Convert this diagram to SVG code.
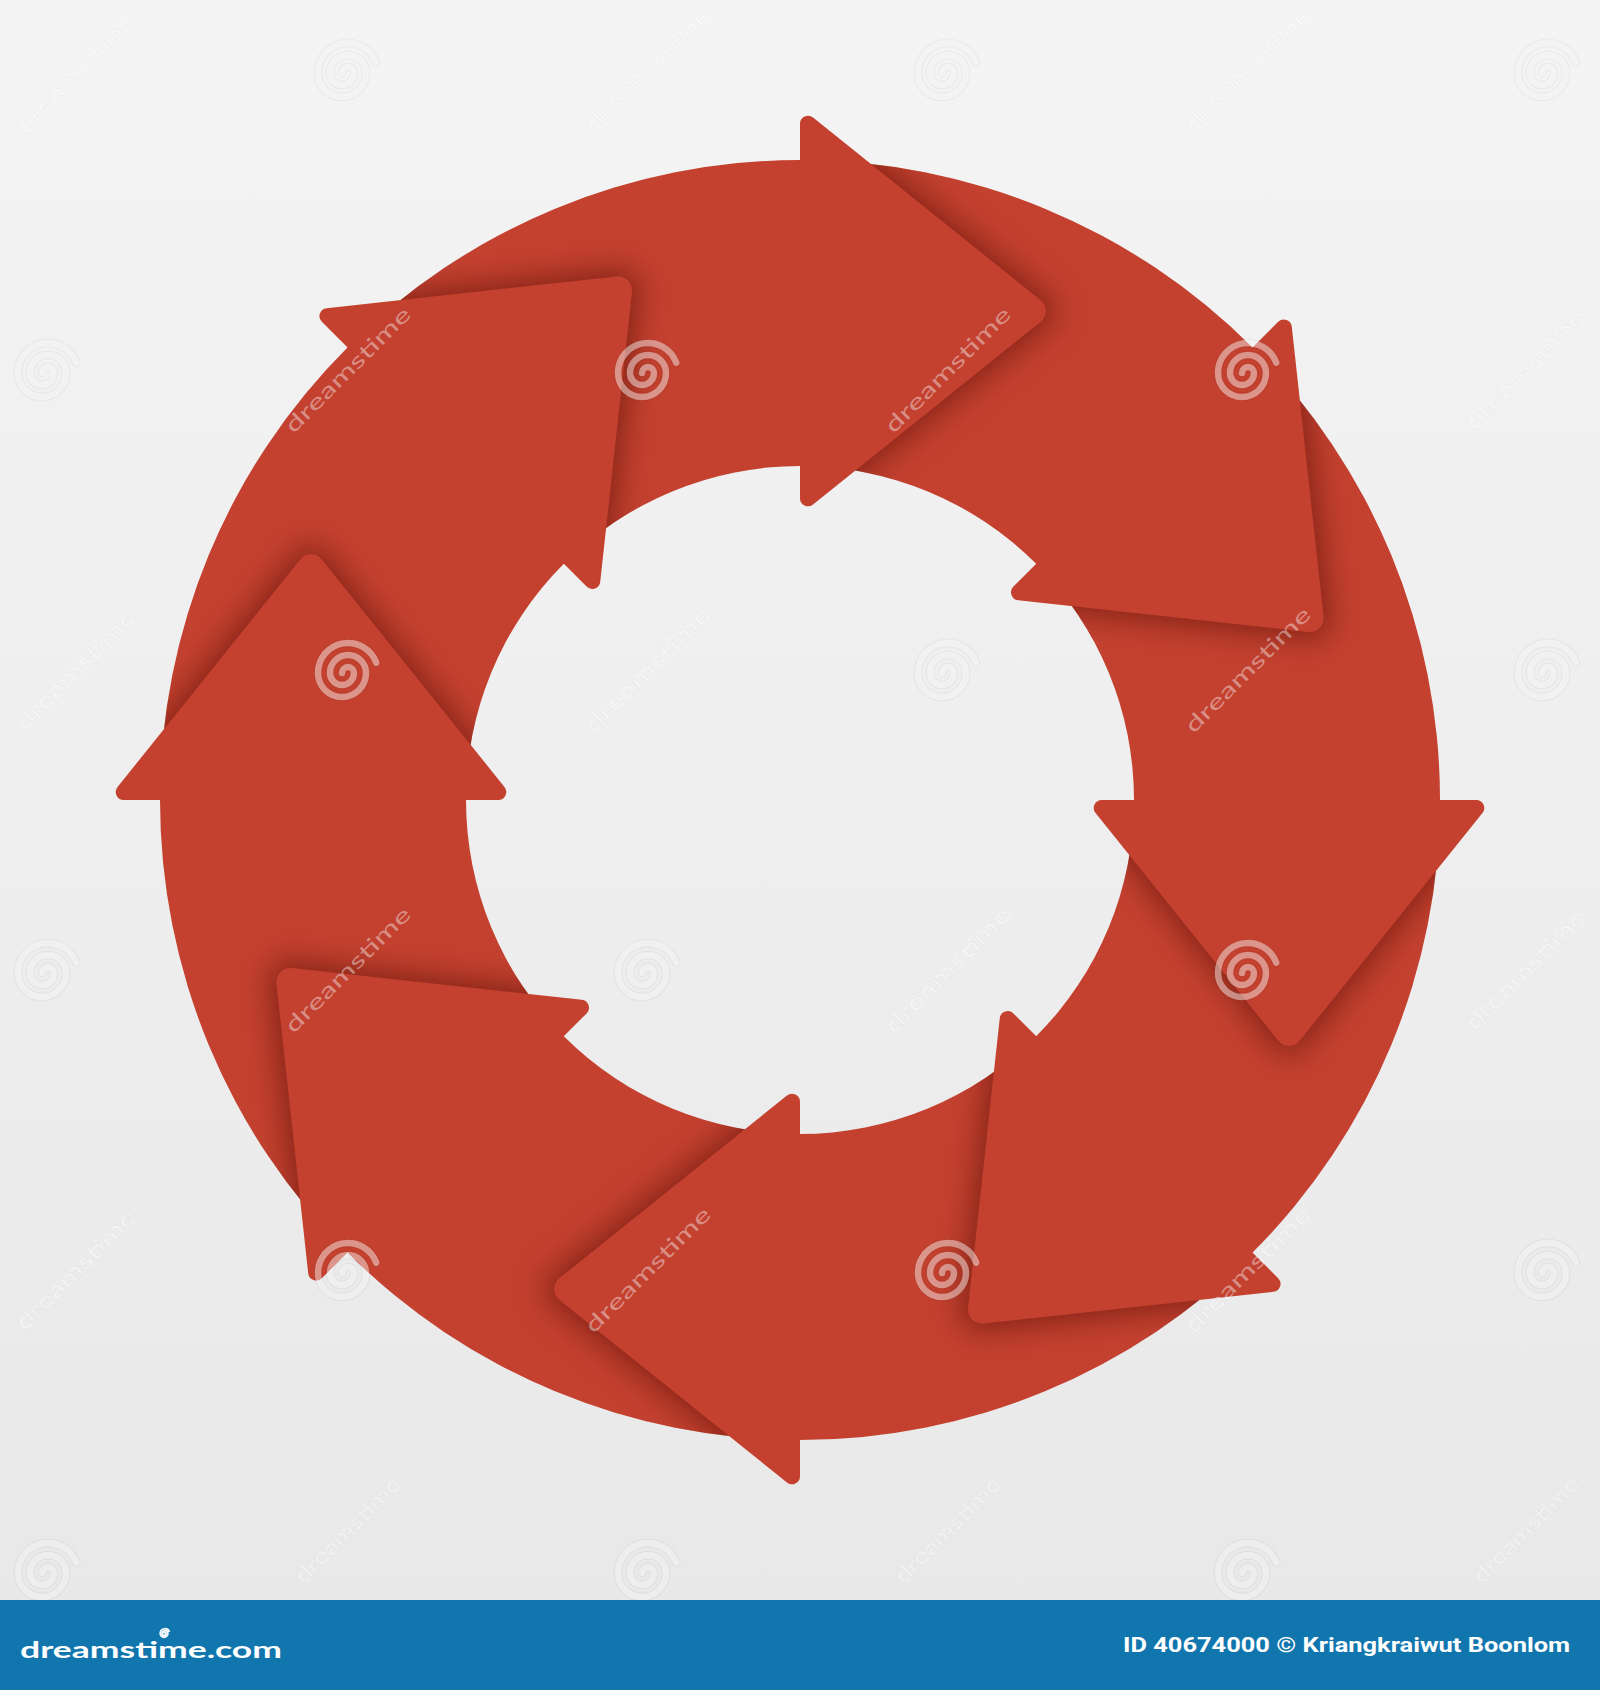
<svg xmlns="http://www.w3.org/2000/svg" xmlns:xlink="http://www.w3.org/1999/xlink" width="1600" height="1690" viewBox="0 0 1600 1690">
<defs>
<style>
.ring{fill:#c4412f}
.head{fill:#c4412f}
.wm{font-family:Lato,"Open Sans",sans-serif;font-size:21px;fill:#ffffff;fill-opacity:0.42;stroke:#000;stroke-opacity:0.03;stroke-width:1}
.sp{fill:none;stroke:#ffffff;stroke-opacity:0.45;stroke-width:6.5;stroke-linecap:round}
.spo{fill:none;stroke:#000;stroke-opacity:0.035;stroke-width:9;stroke-linecap:round}
.bar-l{font-family:Lato,"Open Sans",sans-serif;font-size:23px;font-weight:bold;fill:#ffffff}
.bar-r{font-family:Roboto,"Liberation Sans",sans-serif;font-size:21px;font-weight:bold;fill:#ffffff}
</style>
<linearGradient id="bg" x1="0" y1="0" x2="0" y2="1">
<stop offset="0" stop-color="#f4f4f5"/>
<stop offset="1" stop-color="#e8e8e9"/>
</linearGradient>
<path id="headShape" d="M 800 123.8 A 8 8 0 0 1 813.06 117.57 L 1040.55 300.11 A 14 14 0 0 1 1040.55 321.89 L 813.06 504.43 A 8 8 0 0 1 800 498.2 Z"/>
<clipPath id="nextBody">
<path d="M 800 160 A 640 640 0 0 1 1252.55 347.45 L 1036.17 563.83 A 334 334 0 0 0 800 466 Z"/>
</clipPath>
<filter id="sh" x="-40%" y="-40%" width="180%" height="180%" color-interpolation-filters="sRGB">
<feGaussianBlur in="SourceAlpha" stdDeviation="16"/>
<feOffset dx="9" dy="0" result="b"/>
<feFlood flood-color="#4a0800" flood-opacity="0.55"/>
<feComposite in2="b" operator="in"/>
</filter>
<path id="spiral" d="M0 0 A6 6 0 0 1 12 0 A12 12 0 0 1 -12 0 A18 18 0 0 1 24 0 A24 24 0 0 1 -24 0 A30 30 0 0 1 34.2 -10.3" transform="translate(-6 3)"/>
<g id="wmSpiral"><use xlink:href="#spiral" class="spo"/><use xlink:href="#spiral" class="sp"/></g>
</defs>

<rect x="0" y="0" width="1600" height="1690" fill="url(#bg)"/>

<g id="ring">
<path class="ring" fill-rule="evenodd" d="M 160 800 A 640 640 0 1 0 1440 800 A 640 640 0 1 0 160 800 Z M 466 800 A 334 334 0 1 0 1134 800 A 334 334 0 1 0 466 800 Z"/>
</g>

<g id="shadows">
<g transform="rotate(0 800 800)"><g clip-path="url(#nextBody)"><use xlink:href="#headShape" filter="url(#sh)"/></g></g>
<g transform="rotate(45 800 800)"><g clip-path="url(#nextBody)"><use xlink:href="#headShape" filter="url(#sh)"/></g></g>
<g transform="rotate(90 800 800)"><g clip-path="url(#nextBody)"><use xlink:href="#headShape" filter="url(#sh)"/></g></g>
<g transform="rotate(135 800 800)"><g clip-path="url(#nextBody)"><use xlink:href="#headShape" filter="url(#sh)"/></g></g>
<g transform="rotate(180 800 800)"><g clip-path="url(#nextBody)"><use xlink:href="#headShape" filter="url(#sh)"/></g></g>
<g transform="rotate(225 800 800)"><g clip-path="url(#nextBody)"><use xlink:href="#headShape" filter="url(#sh)"/></g></g>
<g transform="rotate(270 800 800)"><g clip-path="url(#nextBody)"><use xlink:href="#headShape" filter="url(#sh)"/></g></g>
<g transform="rotate(315 800 800)"><g clip-path="url(#nextBody)"><use xlink:href="#headShape" filter="url(#sh)"/></g></g>
</g>

<g id="arrow-top"><use xlink:href="#headShape" class="head" transform="rotate(0 800 800)"/></g>
<g id="arrow-upper-right"><use xlink:href="#headShape" class="head" transform="rotate(45 800 800)"/></g>
<g id="arrow-right"><use xlink:href="#headShape" class="head" transform="rotate(90 800 800)"/></g>
<g id="arrow-lower-right"><use xlink:href="#headShape" class="head" transform="rotate(135 800 800)"/></g>
<g id="arrow-bottom"><use xlink:href="#headShape" class="head" transform="rotate(180 800 800)"/></g>
<g id="arrow-lower-left"><use xlink:href="#headShape" class="head" transform="rotate(225 800 800)"/></g>
<g id="arrow-left"><use xlink:href="#headShape" class="head" transform="rotate(270 800 800)"/></g>
<g id="arrow-upper-left"><use xlink:href="#headShape" class="head" transform="rotate(315 800 800)"/></g>

<g id="watermarks">
<use xlink:href="#wmSpiral" x="348" y="70"/><use xlink:href="#wmSpiral" x="948" y="70"/><use xlink:href="#wmSpiral" x="1548" y="70"/>
<use xlink:href="#wmSpiral" x="48" y="370"/><use xlink:href="#wmSpiral" x="648" y="370"/><use xlink:href="#wmSpiral" x="1248" y="370"/>
<use xlink:href="#wmSpiral" x="348" y="670"/><use xlink:href="#wmSpiral" x="948" y="670"/><use xlink:href="#wmSpiral" x="1548" y="670"/>
<use xlink:href="#wmSpiral" x="48" y="970"/><use xlink:href="#wmSpiral" x="648" y="970"/><use xlink:href="#wmSpiral" x="1248" y="970"/>
<use xlink:href="#wmSpiral" x="348" y="1270"/><use xlink:href="#wmSpiral" x="948" y="1270"/><use xlink:href="#wmSpiral" x="1548" y="1270"/>
<use xlink:href="#wmSpiral" x="48" y="1570"/><use xlink:href="#wmSpiral" x="648" y="1570"/><use xlink:href="#wmSpiral" x="1248" y="1570"/>

<text class="wm" transform="translate(76 74) rotate(-45)" x="0" y="7" text-anchor="middle" textLength="160" lengthAdjust="spacingAndGlyphs">dreamstime</text>
<text class="wm" transform="translate(648 70) rotate(-45)" x="0" y="7" text-anchor="middle" textLength="168" lengthAdjust="spacingAndGlyphs">dreamstime</text>
<text class="wm" transform="translate(1248 70) rotate(-45)" x="0" y="7" text-anchor="middle" textLength="168" lengthAdjust="spacingAndGlyphs">dreamstime</text>
<text class="wm" transform="translate(348 370) rotate(-45)" x="0" y="7" text-anchor="middle" textLength="168" lengthAdjust="spacingAndGlyphs">dreamstime</text>
<text class="wm" transform="translate(948 370) rotate(-45)" x="0" y="7" text-anchor="middle" textLength="168" lengthAdjust="spacingAndGlyphs">dreamstime</text>
<text class="wm" transform="translate(1526 370) rotate(-45)" x="0" y="7" text-anchor="middle" textLength="160" lengthAdjust="spacingAndGlyphs">dreamstime</text>
<text class="wm" transform="translate(76 670) rotate(-45)" x="0" y="7" text-anchor="middle" textLength="160" lengthAdjust="spacingAndGlyphs">dreamstime</text>
<text class="wm" transform="translate(648 670) rotate(-45)" x="0" y="7" text-anchor="middle" textLength="168" lengthAdjust="spacingAndGlyphs">dreamstime</text>
<text class="wm" transform="translate(1248 670) rotate(-45)" x="0" y="7" text-anchor="middle" textLength="168" lengthAdjust="spacingAndGlyphs">dreamstime</text>
<text class="wm" transform="translate(348 970) rotate(-45)" x="0" y="7" text-anchor="middle" textLength="168" lengthAdjust="spacingAndGlyphs">dreamstime</text>
<text class="wm" transform="translate(948 970) rotate(-45)" x="0" y="7" text-anchor="middle" textLength="168" lengthAdjust="spacingAndGlyphs">dreamstime</text>
<text class="wm" transform="translate(1526 970) rotate(-45)" x="0" y="7" text-anchor="middle" textLength="160" lengthAdjust="spacingAndGlyphs">dreamstime</text>
<text class="wm" transform="translate(76 1270) rotate(-45)" x="0" y="7" text-anchor="middle" textLength="160" lengthAdjust="spacingAndGlyphs">dreamstime</text>
<text class="wm" transform="translate(648 1270) rotate(-45)" x="0" y="7" text-anchor="middle" textLength="168" lengthAdjust="spacingAndGlyphs">dreamstime</text>
<text class="wm" transform="translate(1248 1270) rotate(-45)" x="0" y="7" text-anchor="middle" textLength="168" lengthAdjust="spacingAndGlyphs">dreamstime</text>
<text class="wm" transform="translate(348 1530) rotate(-45)" x="0" y="7" text-anchor="middle" textLength="140" lengthAdjust="spacingAndGlyphs">dreamstime</text>
<text class="wm" transform="translate(948 1530) rotate(-45)" x="0" y="7" text-anchor="middle" textLength="140" lengthAdjust="spacingAndGlyphs">dreamstime</text>
<text class="wm" transform="translate(1526 1530) rotate(-45)" x="0" y="7" text-anchor="middle" textLength="140" lengthAdjust="spacingAndGlyphs">dreamstime</text>
</g>

<g id="footer">
<rect x="0" y="1600" width="1600" height="90" fill="#1276ae"/>
<text class="bar-l" x="20" y="1658" textLength="262" lengthAdjust="spacingAndGlyphs">dreamstime.com</text>
<use xlink:href="#spiral" transform="translate(165 1633) scale(0.16)" style="fill:none;stroke:#fff;stroke-width:11"/>
<text class="bar-r" x="1123" y="1652" textLength="447" lengthAdjust="spacingAndGlyphs">ID 40674000 © Kriangkraiwut Boonlom</text>
</g>
</svg>
